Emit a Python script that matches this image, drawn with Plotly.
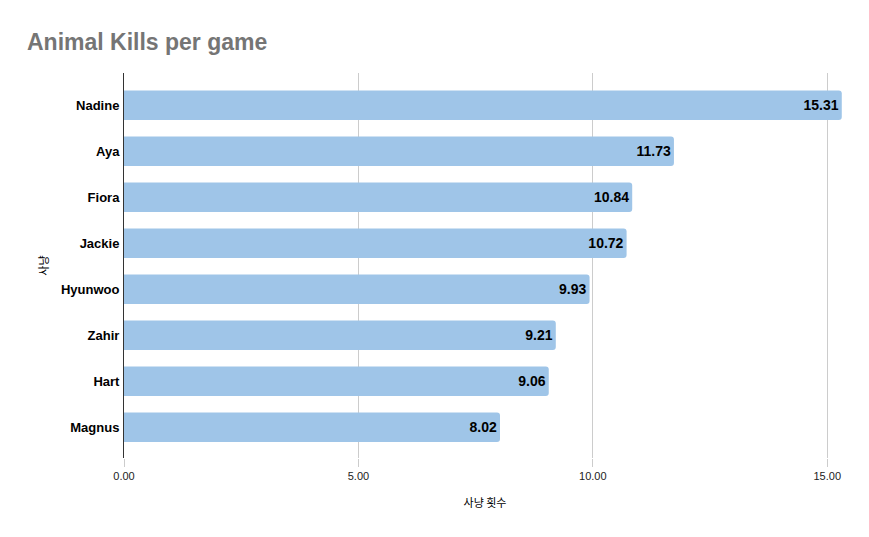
import plotly.graph_objects as go

players = ["Nadine", "Aya", "Fiora", "Jackie", "Hyunwoo", "Zahir", "Hart", "Magnus"]
kills = [15.31, 11.73, 10.84, 10.72, 9.93, 9.21, 9.06, 8.02]
x_ticks = [0, 5, 10, 15]
x_tick_labels = ["0.00", "5.00", "10.00", "15.00"]

fig = go.Figure(go.Bar(
    x=kills[::-1], y=players[::-1], orientation="h",
    marker=dict(color="#9fc5e8", line=dict(width=0)),
    width=0.64,
    text=[f"{v:.2f}" for v in kills[::-1]],
    textposition="inside", insidetextanchor="end",
    textfont=dict(family="Liberation Sans, Arial", size=14, color="#000000", weight="bold"),
    cliponaxis=False,
))

fig.update_layout(
    width=869, height=537,
    margin=dict(l=116, r=31, t=65, b=87, autoexpand=False),
    plot_bgcolor="white", paper_bgcolor="white",
    barcornerradius=3,
    showlegend=False,
    title=dict(text="Animal Kills per game", x=19/869, xref="container", xanchor="left",
               y=1, yref="container", yanchor="top", pad=dict(t=26),
               font=dict(family="Liberation Sans, Arial", size=23, color="#757575", weight="bold")),
    font=dict(family="Liberation Sans, Arial", color="#000000"),
)

fig.update_xaxes(
    range=[0, 15.4], tickvals=x_ticks, ticktext=x_tick_labels,
    showgrid=True, gridcolor="#cccccc", gridwidth=1, zeroline=False,
    ticks="outside", ticklen=8, tickcolor="#cccccc", automargin=False,
    tickfont=dict(size=11, color="#222222"),
    title=dict(text="사냥 횟수", font=dict(family="Noto Sans CJK KR", size=11, color="#000000"), standoff=18),
)
fig.update_yaxes(
    range=[-0.67, 7.7],
    showline=True, linecolor="#333333", linewidth=1, automargin=False,
    showgrid=False, ticks="", ticklabelstandoff=1,
    tickfont=dict(size=13, color="#000000", weight="bold"),
    title=dict(text="사냥", font=dict(family="Noto Sans CJK KR", size=11, color="#000000"), standoff=10),
)

fig.write_html("out.html")
